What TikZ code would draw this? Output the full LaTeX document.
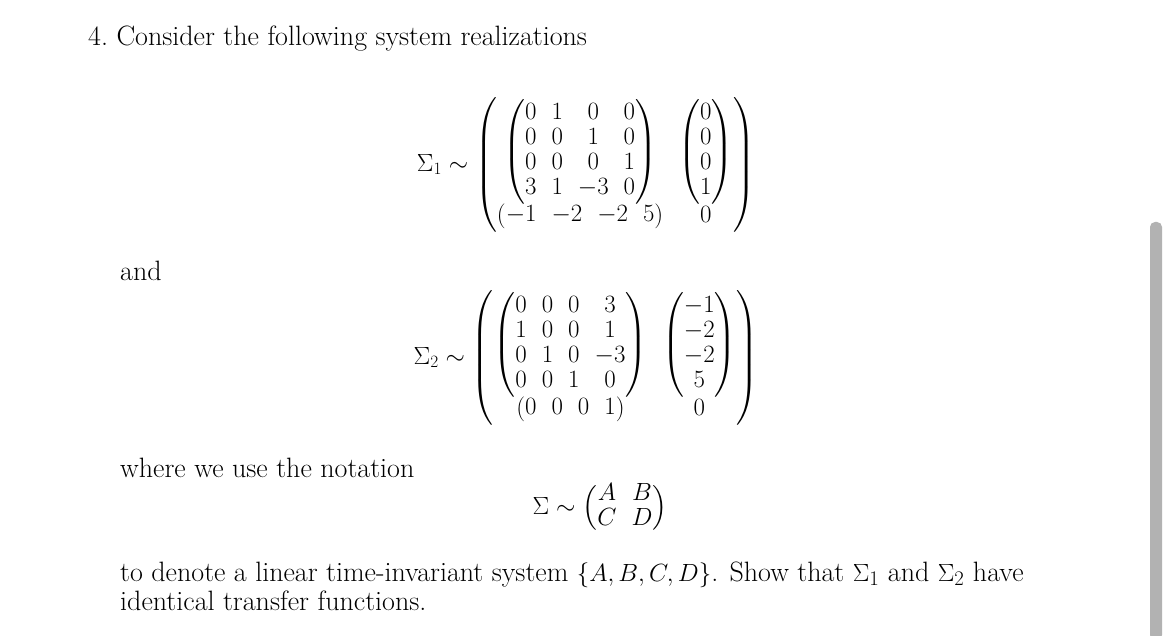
\documentclass[tikz,border=0pt]{standalone}
\usepackage{amsmath}
\begin{document}
\begin{tikzpicture}[x=1pt,y=-1pt,txt/.style={inner sep=0pt,anchor=base west,font=\fontsize{28}{33}\selectfont},
mat/.style={inner sep=0pt,anchor=center,font=\fontsize{26}{31}\selectfont\renewcommand\arraystretch{0.8}\setlength\arraycolsep{7.5pt}}]
\useasboundingbox (0,0) rectangle (1170,636);
\fill[white] (0,0) rectangle (1170,636);
\fill[gray!60,rounded corners=5pt] (1150,222) rectangle (1162,640);
\node[txt] (t1) at (88,46) {4.\ Consider the following system realizations};
\node[txt] (t2) at (120,281) {and};
\node[txt] (t3) at (120,477) {where we use the notation};
\node[txt] (t4) at (120,581) {to denote a linear time-invariant system $\{A,B,C,D\}$. Show that $\Sigma_1$ and $\Sigma_2$ have};
\node[txt] (t5) at (120,610) {identical transfer functions.};
\node[mat] (s1) at (586,165) {$\Sigma_1\sim\left(\begin{matrix}\begin{pmatrix}0&1&0&0\\0&0&1&0\\0&0&0&1\\3&1&-3&0\end{pmatrix} & \begin{pmatrix}0\\0\\0\\1\end{pmatrix}\\ \begin{pmatrix}-1&-2&-2&5\end{pmatrix} & 0\end{matrix}\right)$};
\node[mat] (s2) at (586,358) {$\Sigma_2\sim\left(\begin{matrix}\begin{pmatrix}0&0&0&3\\1&0&0&1\\0&1&0&-3\\0&0&1&0\end{pmatrix} & \begin{pmatrix}-1\\-2\\-2\\5\end{pmatrix}\\ \begin{pmatrix}0&0&0&1\end{pmatrix} & 0\end{matrix}\right)$};
\node[mat] (s3) at (600,508) {$\Sigma\sim\begin{pmatrix}A&B\\C&D\end{pmatrix}$};
\end{tikzpicture}
\end{document}
